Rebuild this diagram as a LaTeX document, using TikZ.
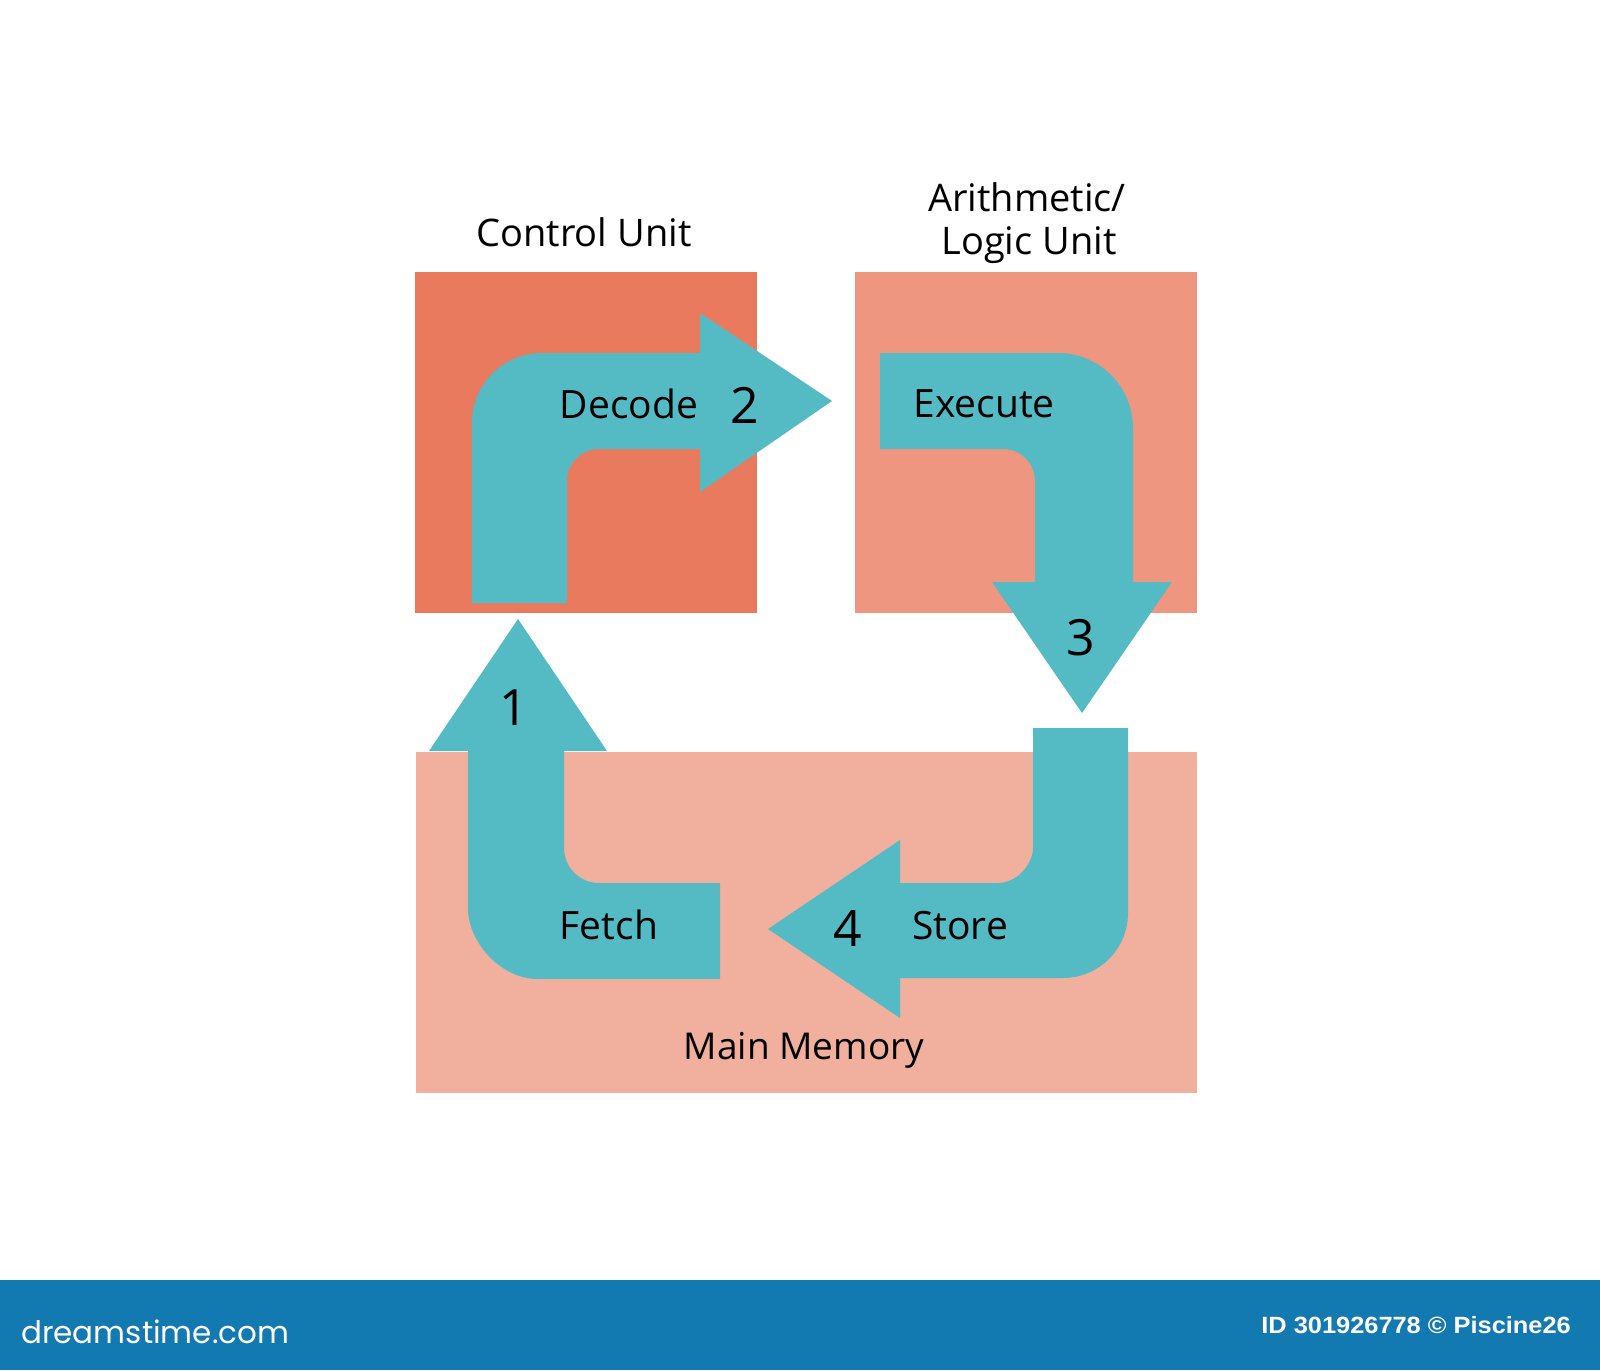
\documentclass[tikz,border=0pt]{standalone}
\usepackage{fontspec}
\setmainfont{Open Sans}
\newfontfamily\logofont{Poppins}
\newfontfamily\idfont[FakeStretch=1.08]{Liberation Sans}
\definecolor{cuc}{HTML}{EA7A5E}
\definecolor{aluc}{HTML}{EF9680}
\definecolor{mmc}{HTML}{F1AF9D}
\definecolor{arrc}{HTML}{54BBC5}
\definecolor{footc}{HTML}{1279B1}
\tikzset{
  lbl/.style={font=\fontsize{39}{47}\selectfont, anchor=base, inner sep=0pt, text=black},
  ttl/.style={font=\fontsize{38}{46}\selectfont, anchor=base, inner sep=0pt, text=black},
  num/.style={font=\fontsize{50}{60}\selectfont, anchor=base, inner sep=0pt, text=black},
  flow/.style={fill=arrc}
}
\begin{document}
\begin{tikzpicture}[x=1pt,y=-1pt]
\useasboundingbox (0,0) rectangle (1600,1370);
\fill[white] (0,0) rectangle (1600,1370);

% boxes
\fill[cuc] (415,272) rectangle (757,613);
\fill[aluc] (855,272) rectangle (1197,613);
\fill[mmc] (416,752) rectangle (1197,1093);

% Decode arrow
\fill[flow] (472,603) -- (472,423) .. controls (472,384.3) and (503.3,353) .. (542,353)
  -- (700,353) -- (700,313) -- (832,401) -- (700,492) -- (700,449) -- (599,449)
  .. controls (581.3,449) and (567,463.3) .. (567,481) -- (567,603) -- cycle;

% Execute arrow
\fill[flow] (880,353) -- (1058,353) .. controls (1099.4,353) and (1133,386.6) .. (1133,428)
  -- (1133,582) -- (1172,582) -- (1082,713) -- (992,582) -- (1035,582) -- (1035,481)
  .. controls (1035,463.3) and (1020.7,449) .. (1003,449) -- (880,449) -- cycle;

% Store arrow
\fill[flow] (1033,728) -- (1128,728) -- (1128,913) .. controls (1128,948.9) and (1098.9,978) .. (1063,978)
  -- (900,978) -- (900,1018) -- (768,929) -- (900,840) -- (900,883) -- (998,883)
  .. controls (1017.3,883) and (1033,863.7) .. (1033,848) -- cycle;

% Fetch arrow
\fill[flow] (720,979) -- (538,979) .. controls (499.3,979) and (468,940.3) .. (468,909)
  -- (468,751) -- (429,751) -- (518,619) -- (607,751) -- (564,751) -- (564,848)
  .. controls (564,867.3) and (579.7,883) .. (599,883) -- (720,883) -- cycle;

% titles
\node[ttl] (cut) at (584,246) {Control Unit};
\node[ttl] (alut1) at (1027,211) {Arithmetic/};
\node[ttl] (alut2) at (1029,254) {Logic Unit};
\node[ttl, font=\fontsize{37}{45}\selectfont] (mmt) at (804,1059) {Main Memory};

% step labels
\node[lbl] (dec) at (629,418) {Decode};
\node[num] (n2) at (745,423) {2};
\node[lbl] (exe) at (984,417) {Execute};
\node[num] (n3) at (1081,655) {3};
\node[lbl] (sto) at (960,939) {Store};
\node[num] (n4) at (848,946) {4};
\node[lbl] (fet) at (609,939) {Fetch};
\node[num] (n1) at (514,725) {1};

% footer
\fill[footc] (0,1280) rectangle (1600,1370);
\node[anchor=base west, inner sep=0pt, text=white, font=\logofont\fontsize{31}{37}\selectfont] (logo) at (21,1343) {dreamstime.com};
\node[anchor=base east, inner sep=0pt, text=white, font=\idfont\bfseries\fontsize{23.5}{28}\selectfont] (idt) at (1571,1333) {ID 301926778 © Piscine26};
\end{tikzpicture}
\end{document}
